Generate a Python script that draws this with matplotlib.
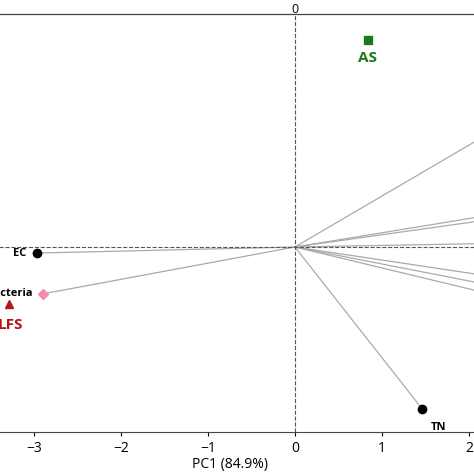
import matplotlib
matplotlib.use('Agg')
import matplotlib.pyplot as plt

plt.rcParams['font.family'] = ['Open Sans', 'DejaVu Sans']

# loading vector tips (labels fall outside the visible crop)
load_x = [2.2, 2.2, 2.2, 2.2, 2.2, 2.2, 2.2, 1.46, -2.90, -2.97]
load_y = [1.29, 0.36, 0.31, 0.04, -0.33, -0.43, -0.53, -1.86, -0.54, -0.07]

pts_x = [-2.97, -2.90, 1.46]
pts_y = [-0.07, -0.54, -1.86]
pts_lab = ['EC', 'Bacteria', 'TN']

sites_x = [0.84, -3.29]
sites_y = [2.38, -0.66]
sites_lab = ['AS', 'LFS']

fig = plt.figure(figsize=(4.74, 4.74), dpi=100)
ax = fig.add_axes([-0.112, 0.0886, 1.193, 0.8814])
ax.set_xlim(-4, 2.5)
ax.set_ylim(-2.13, 2.68)

for x, y in zip(load_x, load_y):
    ax.plot([0, x], [0, y], color='#aaaaaa', lw=0.9, zorder=1)
ax.axhline(0, color='#555555', ls='--', lw=0.8, zorder=2)
ax.axvline(0, color='#555555', ls='--', lw=0.8, zorder=2)

ax.plot(pts_x[0], pts_y[0], 'o', color='black', ms=6, zorder=3)
ax.plot(pts_x[1], pts_y[1], 'D', color='#f08cb0', ms=5.5, zorder=3)
ax.plot(pts_x[2], pts_y[2], 'o', color='black', ms=6, zorder=3)
ax.text(pts_x[0] - 0.12, pts_y[0], pts_lab[0], ha='right', va='center', fontsize=8, fontweight='bold')
ax.text(pts_x[1] - 0.12, pts_y[1], pts_lab[1], ha='right', va='center', fontsize=8, fontweight='bold')
ax.text(pts_x[2] + 0.1, pts_y[2] - 0.22, pts_lab[2], ha='left', va='center', fontsize=8, fontweight='bold')

ax.plot(sites_x[0], sites_y[0], 's', color='#1a7a1a', ms=6, zorder=3)
ax.text(sites_x[0], sites_y[0] - 0.2, sites_lab[0], ha='center', va='center', fontsize=11,
        fontweight='bold', color='#1a7a1a')
ax.plot(sites_x[1], sites_y[1], '^', color='#b01818', ms=6, zorder=3)
ax.text(sites_x[1] + 0.02, sites_y[1] - 0.24, sites_lab[1], ha='center', va='center', fontsize=11,
        fontweight='bold', color='#b01818')

ax.set_xticks([-3, -2, -1, 0, 1, 2])
ax.set_yticks([])
ax.tick_params(labelsize=10, length=3)
ax.set_xlabel('PC1 (84.9%)', fontsize=10, labelpad=1)
for s in ax.spines.values():
    s.set_color('#444444')

top = ax.secondary_xaxis('top')
top.set_xticks([0])
top.tick_params(labelsize=9, length=0, pad=-1)

fig.savefig('out.png', dpi=100)
